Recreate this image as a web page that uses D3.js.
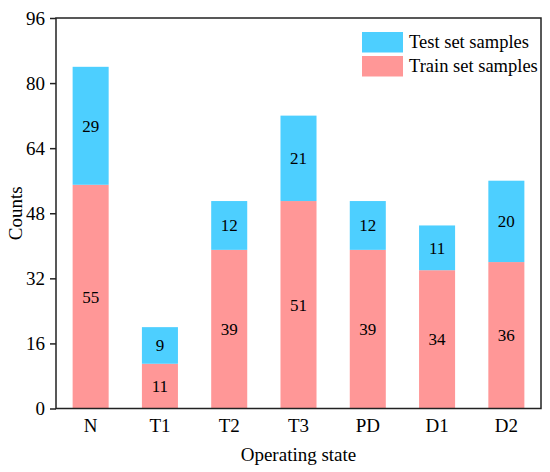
<!DOCTYPE html>
<html><head><meta charset="utf-8">
<script src="https://cdn.jsdelivr.net/npm/d3@7"></script>
<style>body{margin:0;background:#fff}svg{display:block}text{font-family:"Liberation Serif","Times New Roman",serif;fill:#000}</style>
</head><body><svg id="c" width="550" height="472"></svg>
<script>
const categories = ["N","T1","T2","T3","PD","D1","D2"];
const trainValues = [55,11,39,51,39,34,36];
const testValues = [29,9,12,21,12,11,20];
const yTicks = [0,16,32,48,64,80,96];
const seriesNames = ["Test set samples","Train set samples"];
const colors = {train:"#ff9797", test:"#4dcfff"};
const SERIF = "'Liberation Serif','Times New Roman',serif";

const svg = d3.select("#c");
const m = {l:56, r:541, t:18, b:408.5};
const x = d3.scaleBand().domain(categories).range([m.l, m.r]).paddingInner(0.48).paddingOuter(0.24);
const y = d3.scaleLinear().domain([0,96]).range([m.b, m.t]);

const g = svg.append("g");
categories.forEach((c,i)=>{
  const tr = trainValues[i], te = testValues[i];
  g.append("rect").attr("x",x(c)).attr("width",x.bandwidth())
    .attr("y",y(tr)).attr("height",y(0)-y(tr)).attr("fill",colors.train);
  g.append("rect").attr("x",x(c)).attr("width",x.bandwidth())
    .attr("y",y(tr+te)).attr("height",y(tr)-y(tr+te)).attr("fill",colors.test);
  g.append("text").attr("x",x(c)+x.bandwidth()/2).attr("y",(y(0)+y(tr))/2).attr("dy","0.35em")
    .attr("text-anchor","middle").attr("font-size",17).style("font-family",SERIF).text(tr);
  g.append("text").attr("x",x(c)+x.bandwidth()/2).attr("y",(y(tr)+y(tr+te))/2).attr("dy","0.35em")
    .attr("text-anchor","middle").attr("font-size",17).style("font-family",SERIF).text(te);
});

// frame
svg.append("rect").attr("x",m.l).attr("y",m.t).attr("width",m.r-m.l).attr("height",m.b-m.t)
  .attr("fill","none").attr("stroke","#222").attr("stroke-width",1.5);

// y axis
const ya = svg.append("g").attr("transform",`translate(${m.l},0)`)
  .call(d3.axisLeft(y).tickValues(yTicks).tickSize(6).tickPadding(5));
ya.select(".domain").remove();
ya.selectAll("line").attr("stroke","#222").attr("stroke-width",1.5);
ya.selectAll("text").attr("font-size",19).style("font-family",SERIF).attr("fill","#000");

// x axis
const xa = svg.append("g").attr("transform",`translate(0,${m.b})`)
  .call(d3.axisBottom(x).tickSize(0).tickPadding(10));
xa.select(".domain").remove();
xa.selectAll("text").attr("font-size",19).style("font-family",SERIF).attr("fill","#000");

// titles
svg.append("text").attr("x",(m.l+m.r)/2).attr("y",461).attr("text-anchor","middle").attr("font-size",19).style("font-family",SERIF).text("Operating state");
svg.append("text").attr("transform",`translate(22,${(m.t+m.b)/2}) rotate(-90)`).attr("text-anchor","middle").attr("font-size",19).style("font-family",SERIF).text("Counts");

// legend
const lg = svg.append("g");
[["test",seriesNames[0],32],["train",seriesNames[1],56]].forEach(([k,name,yy])=>{
  lg.append("rect").attr("x",362).attr("y",yy).attr("width",41).attr("height",20.5).attr("fill",colors[k]);
  lg.append("text").attr("x",409).attr("y",yy+10).attr("dy","0.35em").attr("font-size",18.5).style("font-family",SERIF).text(name);
});
</script></body></html>
